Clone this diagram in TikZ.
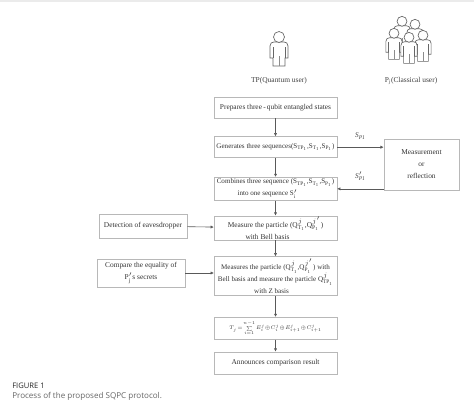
\documentclass[tikz,border=0pt]{standalone}
\usepackage{amsmath,amssymb,graphicx}
\usepackage{fontspec}
\setmainfont{Liberation Serif}
\newfontfamily\capfont{Open Sans}
\usepackage{xcolor}
\usetikzlibrary{arrows.meta,positioning}
\DeclareMathSizes{5.55}{5.55}{4.3}{3.5}
\DeclareMathSizes{5.4}{5.4}{4.2}{3.5}
\DeclareMathSizes{5.3}{5.3}{4}{3.5}
\tikzset{
  stepbox/.style={draw=black!28,line width=0.5pt,align=center,inner sep=0pt,
    minimum width=92pt,font=\fontsize{5.55}{9}\selectfont,text=black!80},
  densebox/.style={stepbox,font=\fontsize{5.3}{9}\selectfont},
  sidebox/.style={stepbox,minimum width=66pt},
  flowarrow/.style={-{Latex[length=2.4pt,width=2.4pt]},draw=black!65,line width=0.45pt},
  userlabel/.style={font=\fontsize{5.6}{7}\selectfont,text=black!75},
  arrowlabel/.style={font=\fontsize{5.4}{7}\selectfont,text=black!75,above=2.5pt},
  captiontext/.style={anchor=base west,inner sep=0pt},
  personicon/.pic={
    \draw[black!60,line width=0.5pt,fill=white] (-9,8) -- (-9,-4) .. controls (-9,-7) and (-7,-8) .. (-5,-8)
      -- (5,-8) .. controls (7,-8) and (9,-7) .. (9,-4) -- (9,8) -- (6,8) -- (6,16) -- (-6,16) -- (-6,8) -- cycle;
    \draw[black!60,line width=0.5pt] (-6,-3) -- (-6,8) (6,-3) -- (6,8);
    \draw[black!45,line width=0.4pt] (0,6) -- (0,16);
    \draw[black!60,line width=0.5pt,fill=white] (0,-13) circle (5.5);
  }
}

\begin{document}
\begin{tikzpicture}[x=0.75pt,y=-0.75pt,node distance=14pt and 30pt]
  \useasboundingbox (0,0) rectangle (474,401);
  \fill[black!8] (0,0) rectangle (474,2);
  % the two users
  \pic at (279,50) {personicon};
  \pic[scale=0.9] at (402,33) {personicon};
  \pic[scale=0.9] at (415,36) {personicon};
  \pic[scale=0.9] at (394,45) {personicon};
  \pic[scale=0.9] at (423,47) {personicon};
  \pic[scale=0.9] at (409,49) {personicon};
  \node[userlabel] (tp) at (279,81) {TP(Quantum user)};
  \node[userlabel] (pj) at (411,81) {P$_{\mathrm{j}}$(Classical user)};
  % main column
  \node[stepbox,minimum height=15.75pt] (prep) at (275.5,107.5) {Prepares three\,-\,qubit entangled states};
  \node[densebox,below=13.5pt of prep,minimum height=15.75pt] (gen) {Generates three sequences(S$_{\mathrm{TP_1}}$,S$_{\mathrm{T_1}}$,S$_{\mathrm{P_1}}$)};
  \node[densebox,below=14.25pt of gen,minimum height=17.25pt] (comb) {Combines three sequence (S$_{\mathrm{TP_1}}$,S$_{\mathrm{T_1}}$,S$_{\mathrm{P_1}}$)\\\hspace*{-12pt}into one sequence S$_{\mathrm{i}}'$};
  \node[stepbox,below=11.25pt of comb,minimum height=18pt] (meas) {Measure the particle (Q$^{j}_{\mathrm{T_1}}$,Q$^{j'}_{\mathrm{P_1}}$)\\\hspace*{-12pt}with Bell basis};
  \node[densebox,below=12pt of meas,minimum height=29.25pt] (bell) {Measures the particle (Q$^{j}_{\mathrm{T_1}}$,Q$^{j'}_{\mathrm{P_1}}$) with\\Bell basis and measure the particle Q$^{j}_{\mathrm{TP_1}}$\\\hspace*{-6pt}with Z basis};
  \node[stepbox,below=15.75pt of bell,minimum height=16.5pt] (calc) {\scalebox{0.66}{$\medmuskip=1.5mu\thickmuskip=2.5mu T_j=\sum\limits_{i=1}^{n-1}E_i^j\oplus C_i^j\oplus E_{i+1}^j\oplus C_{i+1}^j$}};
  \node[stepbox,below=9pt of calc,minimum height=16.5pt] (ann) {Announces comparison result};
  % side boxes
  \node[stepbox,minimum width=56.25pt,minimum height=38.25pt] (mr) at (421.5,164.5) {Measurement\\or\\reflection};
  \node[sidebox,minimum height=18pt] (det) at (143,226) {Detection of eavesdropper};
  \node[sidebox,minimum height=21pt] (cmp) at (141,273) {Compare the equality of\\P$_{\mathrm{j}}'$s secrets};
  % connectors
  \draw[flowarrow] (prep) -- (gen);
  \draw[flowarrow] (gen) -- (comb);
  \draw[flowarrow] (comb) -- (meas);
  \draw[flowarrow] (meas) -- (bell);
  \draw[flowarrow] (bell) -- (calc);
  \draw[flowarrow] (calc) -- (ann);
  \draw[flowarrow] (det) -- (meas);
  \draw[flowarrow] (cmp) -- (cmp -| bell.west);
  \draw[flowarrow] (gen) -- node[arrowlabel]{$\textit{S}_{\textit{P1}}$} (gen -| mr.west);
  \draw[flowarrow] (mr.west |- comb) -- node[arrowlabel]{$\textit{S}'_{\textit{P1}}$} (comb);
  % caption
  \node[captiontext,text=black!85,font=\capfont\fontsize{5.7}{7}\selectfont] (figno) at (12,388) {FIGURE 1};
  \node[captiontext,text=black!60,font=\capfont\fontsize{6.05}{7}\selectfont] (figcap) at (12,398.5) {Process of the proposed SQPC protocol.};
\end{tikzpicture}
\end{document}
